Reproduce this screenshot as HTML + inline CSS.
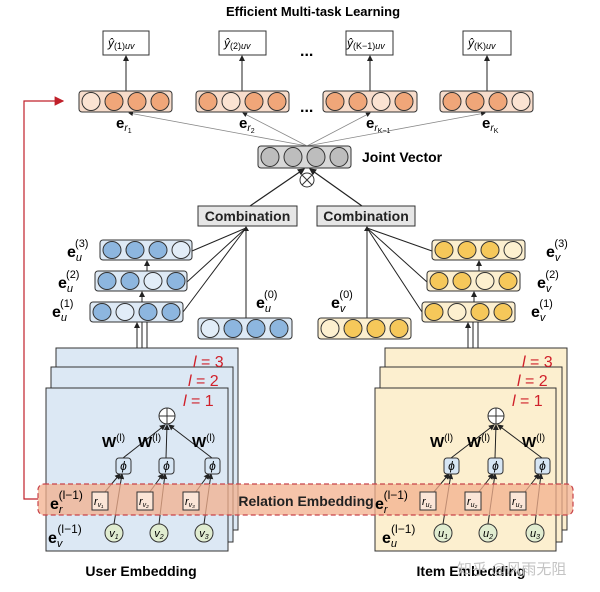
<!DOCTYPE html>
<html><head><meta charset="utf-8"><style>
html,body{margin:0;padding:0;background:#fff}
svg{display:block}
text{font-family:"Liberation Sans",sans-serif}
.m{font-family:"Liberation Serif",serif}
.b{font-weight:bold}
</style></head><body>
<svg width="600" height="592" viewBox="0 0 600 592" xmlns="http://www.w3.org/2000/svg">
<defs>
<marker id="ar" markerWidth="6" markerHeight="6" refX="5" refY="3" orient="auto"><path d="M0,0 L6,3 L0,6z" fill="#222"/></marker>
<marker id="arr" markerWidth="8" markerHeight="8" refX="7" refY="4" orient="auto"><path d="M0,0 L8,4 L0,8z" fill="#c0202a"/></marker>
</defs>
<text x="313" y="16" text-anchor="middle" font-size="13" class="b">Efficient Multi-task Learning</text>

<!-- output boxes -->
<g fill="#fff" stroke="#333" stroke-width="1">
<rect x="103" y="31" width="46" height="24"/><rect x="219" y="31" width="47" height="24"/>
<rect x="346" y="31" width="47" height="24"/><rect x="463" y="31" width="48" height="24"/>
</g>
<g class="m" font-size="12" font-style="italic">
<text x="108" y="47">ŷ<tspan font-size="9" font-style="normal" dy="2">(1)</tspan><tspan font-size="9">uv</tspan></text>
<text x="224" y="47">ŷ<tspan font-size="9" font-style="normal" dy="2">(2)</tspan><tspan font-size="9">uv</tspan></text>
<text x="347" y="47">ŷ<tspan font-size="9" font-style="normal" dy="2">(K−1)</tspan><tspan font-size="9">uv</tspan></text>
<text x="468" y="47">ŷ<tspan font-size="9" font-style="normal" dy="2">(K)</tspan><tspan font-size="9">uv</tspan></text>
</g>
<g stroke="#222" stroke-width="1" marker-end="url(#ar)">
<line x1="126" y1="91" x2="126" y2="56"/><line x1="242" y1="91" x2="242" y2="56"/>
<line x1="370" y1="91" x2="370" y2="56"/><line x1="487" y1="91" x2="487" y2="56"/>
</g>
<text x="300" y="56" font-size="16" class="b">...</text>
<text x="300" y="112" font-size="16" class="b">...</text>

<!-- orange vectors -->
<g stroke="#333" stroke-width="1">
<rect x="79" y="91" width="93" height="21" rx="3" fill="#f7dccb"/>
<rect x="196" y="91" width="93" height="21" rx="3" fill="#f7dccb"/>
<rect x="323" y="91" width="94" height="21" rx="3" fill="#f7dccb"/>
<rect x="440" y="91" width="93" height="21" rx="3" fill="#f7dccb"/>
</g>
<g stroke="#333" stroke-width="1">
<ellipse cx="91" cy="101.5" rx="9" ry="9" fill="#fbe3d2"/><ellipse cx="114" cy="101.5" rx="9" ry="9" fill="#f0a679"/><ellipse cx="137" cy="101.5" rx="9" ry="9" fill="#f0a679"/><ellipse cx="160" cy="101.5" rx="9" ry="9" fill="#f0a679"/>
<ellipse cx="208" cy="101.5" rx="9" ry="9" fill="#f0a679"/><ellipse cx="231" cy="101.5" rx="9" ry="9" fill="#fbe3d2"/><ellipse cx="254" cy="101.5" rx="9" ry="9" fill="#f0a679"/><ellipse cx="277" cy="101.5" rx="9" ry="9" fill="#f0a679"/>
<ellipse cx="335" cy="101.5" rx="9" ry="9" fill="#f0a679"/><ellipse cx="358" cy="101.5" rx="9" ry="9" fill="#f0a679"/><ellipse cx="381" cy="101.5" rx="9" ry="9" fill="#fbe3d2"/><ellipse cx="404" cy="101.5" rx="9" ry="9" fill="#f0a679"/>
<ellipse cx="452" cy="101.5" rx="9" ry="9" fill="#f0a679"/><ellipse cx="475" cy="101.5" rx="9" ry="9" fill="#f0a679"/><ellipse cx="498" cy="101.5" rx="9" ry="9" fill="#f0a679"/><ellipse cx="521" cy="101.5" rx="9" ry="9" fill="#fbe3d2"/>
</g>
<g class="m b" font-size="15">
<text x="116" y="128">e<tspan font-size="10" font-style="italic" font-weight="normal" dy="3">r</tspan><tspan font-size="7" font-weight="normal" dy="2">1</tspan></text>
<text x="239" y="128">e<tspan font-size="10" font-style="italic" font-weight="normal" dy="3">r</tspan><tspan font-size="7" font-weight="normal" dy="2">2</tspan></text>
<text x="366" y="128">e<tspan font-size="10" font-style="italic" font-weight="normal" dy="3">r</tspan><tspan font-size="7" font-weight="normal" dy="2">K−1</tspan></text>
<text x="482" y="128">e<tspan font-size="10" font-style="italic" font-weight="normal" dy="3">r</tspan><tspan font-size="7" font-weight="normal" dy="2">K</tspan></text>
</g>
<g stroke="#888" stroke-width="0.8" marker-end="url(#ar)">
<line x1="307" y1="146" x2="129" y2="113"/><line x1="307" y1="146" x2="243" y2="113"/>
<line x1="307" y1="146" x2="370" y2="113"/><line x1="307" y1="146" x2="485" y2="113"/>
</g>

<!-- joint vector -->
<rect x="258" y="146" width="93" height="22" rx="3" fill="#d8d8d8" stroke="#333"/>
<g stroke="#333" fill="#bdbdbd"><ellipse cx="270" cy="157" rx="9" ry="9.5"/><ellipse cx="293" cy="157" rx="9" ry="9.5"/><ellipse cx="316" cy="157" rx="9" ry="9.5"/><ellipse cx="339" cy="157" rx="9" ry="9.5"/></g>
<text x="362" y="162" font-size="14" class="b">Joint Vector</text>
<circle cx="307" cy="180" r="7" fill="#fff" stroke="#333"/>
<path d="M302,175 L312,185 M312,175 L302,185" stroke="#333"/>
<g stroke="#222" stroke-width="1.2" marker-end="url(#ar)">
<line x1="250" y1="206" x2="304" y2="169"/><line x1="362" y1="206" x2="310" y2="169"/>
</g>

<!-- combination -->
<rect x="198" y="206" width="99" height="20" fill="#e6e6e6" stroke="#333"/>
<rect x="317" y="206" width="98" height="20" fill="#e6e6e6" stroke="#333"/>
<text x="247.5" y="221" text-anchor="middle" font-size="14" class="b" fill="#222">Combination</text>
<text x="366" y="221" text-anchor="middle" font-size="14" class="b" fill="#222">Combination</text>

<!-- lines to combination -->
<g stroke="#222" stroke-width="1">
<line x1="246" y1="228" x2="192" y2="251"/><line x1="246" y1="228" x2="187" y2="282"/><line x1="246" y1="228" x2="183" y2="312"/><line x1="246" y1="228" x2="246" y2="318"/>
<line x1="367" y1="228" x2="432" y2="251"/><line x1="367" y1="228" x2="427" y2="282"/><line x1="367" y1="228" x2="422" y2="312"/><line x1="367" y1="228" x2="367" y2="318"/>
</g>
<path d="M243,231 L246,226 L249,231z M364,231 L367,226 L370,231z" fill="#222"/>

<!-- blue / yellow vectors -->
<g stroke="#333">
<rect x="100" y="240" width="92" height="20" rx="3" fill="#dde9f5"/>
<rect x="95" y="271" width="92" height="20" rx="3" fill="#dde9f5"/>
<rect x="90" y="302" width="93" height="20" rx="3" fill="#dde9f5"/>
<rect x="198" y="318" width="94" height="21" rx="3" fill="#dde9f5"/>
<rect x="432" y="240" width="93" height="20" rx="3" fill="#fcefcf"/>
<rect x="427" y="271" width="93" height="20" rx="3" fill="#fcefcf"/>
<rect x="422" y="302" width="93" height="20" rx="3" fill="#fcefcf"/>
<rect x="318" y="318" width="93" height="21" rx="3" fill="#fcefcf"/>
</g>
<g stroke="#333">
<ellipse cx="112" cy="250" rx="9" ry="8.5" fill="#8db6df"/><ellipse cx="135" cy="250" rx="9" ry="8.5" fill="#8db6df"/><ellipse cx="158" cy="250" rx="9" ry="8.5" fill="#8db6df"/><ellipse cx="181" cy="250" rx="9" ry="8.5" fill="#e2edf8"/>
<ellipse cx="107" cy="281" rx="9" ry="8.5" fill="#8db6df"/><ellipse cx="130" cy="281" rx="9" ry="8.5" fill="#8db6df"/><ellipse cx="153" cy="281" rx="9" ry="8.5" fill="#e2edf8"/><ellipse cx="176" cy="281" rx="9" ry="8.5" fill="#8db6df"/>
<ellipse cx="102" cy="312" rx="9" ry="8.5" fill="#8db6df"/><ellipse cx="125" cy="312" rx="9" ry="8.5" fill="#e2edf8"/><ellipse cx="148" cy="312" rx="9" ry="8.5" fill="#8db6df"/><ellipse cx="171" cy="312" rx="9" ry="8.5" fill="#8db6df"/>
<ellipse cx="210" cy="328.5" rx="9" ry="9" fill="#e2edf8"/><ellipse cx="233" cy="328.5" rx="9" ry="9" fill="#8db6df"/><ellipse cx="256" cy="328.5" rx="9" ry="9" fill="#8db6df"/><ellipse cx="279" cy="328.5" rx="9" ry="9" fill="#8db6df"/>
<ellipse cx="444" cy="250" rx="9" ry="8.5" fill="#f6c85a"/><ellipse cx="467" cy="250" rx="9" ry="8.5" fill="#f6c85a"/><ellipse cx="490" cy="250" rx="9" ry="8.5" fill="#f6c85a"/><ellipse cx="513" cy="250" rx="9" ry="8.5" fill="#fdf0cf"/>
<ellipse cx="439" cy="281" rx="9" ry="8.5" fill="#f6c85a"/><ellipse cx="462" cy="281" rx="9" ry="8.5" fill="#f6c85a"/><ellipse cx="485" cy="281" rx="9" ry="8.5" fill="#fdf0cf"/><ellipse cx="508" cy="281" rx="9" ry="8.5" fill="#f6c85a"/>
<ellipse cx="434" cy="312" rx="9" ry="8.5" fill="#f6c85a"/><ellipse cx="457" cy="312" rx="9" ry="8.5" fill="#fdf0cf"/><ellipse cx="480" cy="312" rx="9" ry="8.5" fill="#f6c85a"/><ellipse cx="503" cy="312" rx="9" ry="8.5" fill="#f6c85a"/>
<ellipse cx="330" cy="328.5" rx="9" ry="9" fill="#fdf0cf"/><ellipse cx="353" cy="328.5" rx="9" ry="9" fill="#f6c85a"/><ellipse cx="376" cy="328.5" rx="9" ry="9" fill="#f6c85a"/><ellipse cx="399" cy="328.5" rx="9" ry="9" fill="#f6c85a"/>
</g>
<g stroke="#222" stroke-width="1" marker-end="url(#ar)">
<line x1="142" y1="302" x2="142" y2="292"/><line x1="147" y1="271" x2="147" y2="261"/>
<line x1="474" y1="302" x2="474" y2="292"/><line x1="479" y1="271" x2="479" y2="261"/>
<line x1="137" y1="388" x2="137" y2="323"/><line x1="468" y1="388" x2="468" y2="323"/>
</g>
<g stroke="#222" stroke-width="1">
<line x1="142" y1="367" x2="142" y2="322"/><line x1="147" y1="348" x2="147" y2="322"/>
<line x1="473" y1="367" x2="473" y2="322"/><line x1="478" y1="348" x2="478" y2="322"/>
</g>
<g class="m b" font-size="16">
<text x="67" y="257">e<tspan font-size="11" font-style="italic" font-weight="normal" dy="4">u</tspan><tspan font-size="11" font-weight="normal" dx="-7" dy="-14">(3)</tspan></text>
<text x="58" y="288">e<tspan font-size="11" font-style="italic" font-weight="normal" dy="4">u</tspan><tspan font-size="11" font-weight="normal" dx="-7" dy="-14">(2)</tspan></text>
<text x="52" y="317">e<tspan font-size="11" font-style="italic" font-weight="normal" dy="4">u</tspan><tspan font-size="11" font-weight="normal" dx="-7" dy="-14">(1)</tspan></text>
<text x="256" y="308">e<tspan font-size="11" font-style="italic" font-weight="normal" dy="4">u</tspan><tspan font-size="11" font-weight="normal" dx="-7" dy="-14">(0)</tspan></text>
<text x="331" y="308">e<tspan font-size="11" font-style="italic" font-weight="normal" dy="4">v</tspan><tspan font-size="11" font-weight="normal" dx="-6" dy="-14">(0)</tspan></text>
<text x="546" y="257">e<tspan font-size="11" font-style="italic" font-weight="normal" dy="4">v</tspan><tspan font-size="11" font-weight="normal" dx="-6" dy="-14">(3)</tspan></text>
<text x="537" y="288">e<tspan font-size="11" font-style="italic" font-weight="normal" dy="4">v</tspan><tspan font-size="11" font-weight="normal" dx="-6" dy="-14">(2)</tspan></text>
<text x="531" y="317">e<tspan font-size="11" font-style="italic" font-weight="normal" dy="4">v</tspan><tspan font-size="11" font-weight="normal" dx="-6" dy="-14">(1)</tspan></text>
</g>

<!-- sheets -->
<g stroke="#333" stroke-width="1">
<rect x="56" y="348" width="182" height="182" fill="#dce8f4"/>
<rect x="51" y="367" width="182" height="175" fill="#dce8f4"/>
<rect x="46" y="388" width="182" height="163" fill="#dce8f4"/>
<rect x="385" y="348" width="182" height="182" fill="#fcefcf"/>
<rect x="380" y="367" width="182" height="175" fill="#fcefcf"/>
<rect x="375" y="388" width="181" height="163" fill="#fcefcf"/>
</g>
<g fill="#d0202a" font-size="16" class="m" font-style="italic">
<text x="193" y="367">l <tspan font-style="normal">= 3</tspan></text>
<text x="188" y="386">l <tspan font-style="normal">= 2</tspan></text>
<text x="183" y="406">l <tspan font-style="normal">= 1</tspan></text>
<text x="522" y="367">l <tspan font-style="normal">= 3</tspan></text>
<text x="517" y="386">l <tspan font-style="normal">= 2</tspan></text>
<text x="512" y="406">l <tspan font-style="normal">= 1</tspan></text>
</g>

<!-- inner structures -->
<g>
<circle cx="167" cy="416" r="8" fill="#fff" stroke="#333"/>
<path d="M159,416 H175 M167,408 V424" stroke="#333"/>
<g stroke="#222" stroke-width="1" marker-end="url(#ar)">
<line x1="123" y1="458" x2="165" y2="425"/><line x1="166" y1="458" x2="167" y2="425"/><line x1="212" y1="458" x2="169" y2="425"/>
<line x1="114" y1="524" x2="122" y2="474"/><line x1="159" y1="524" x2="165" y2="474"/><line x1="204" y1="524" x2="211" y2="474"/>
<line x1="104" y1="493" x2="120" y2="474"/><line x1="149" y1="493" x2="163" y2="474"/><line x1="195" y1="493" x2="209" y2="474"/>
</g>
<g fill="#d7e6f4" stroke="#333"><rect x="116" y="458" width="15" height="16" rx="3"/><rect x="159" y="458" width="15" height="16" rx="3"/><rect x="205" y="458" width="15" height="16" rx="3"/></g>
<g class="m" font-size="12" font-style="italic" text-anchor="middle"><text x="123.5" y="470">ϕ</text><text x="166.5" y="470">ϕ</text><text x="212.5" y="470">ϕ</text></g>
<g class="m b" font-size="15"><text x="102" y="447">W<tspan font-size="10" font-weight="normal" dy="-6">(l)</tspan></text><text x="138" y="447">W<tspan font-size="10" font-weight="normal" dy="-6">(l)</tspan></text><text x="192" y="447">W<tspan font-size="10" font-weight="normal" dy="-6">(l)</tspan></text></g>
</g>
<g transform="translate(329,0)">
<circle cx="167" cy="416" r="8" fill="#fff" stroke="#333"/>
<path d="M159,416 H175 M167,408 V424" stroke="#333"/>
<g stroke="#222" stroke-width="1" marker-end="url(#ar)">
<line x1="122" y1="458" x2="165" y2="425"/><line x1="166" y1="458" x2="167" y2="425"/><line x1="213" y1="458" x2="169" y2="425"/>
<line x1="114" y1="524" x2="122" y2="474"/><line x1="159" y1="524" x2="166" y2="474"/><line x1="206" y1="524" x2="212" y2="474"/>
<line x1="104" y1="493" x2="120" y2="474"/><line x1="149" y1="493" x2="164" y2="474"/><line x1="195" y1="493" x2="210" y2="474"/>
</g>
<g fill="#d7e6f4" stroke="#333"><rect x="115" y="458" width="15" height="16" rx="3"/><rect x="159" y="458" width="15" height="16" rx="3"/><rect x="206" y="458" width="15" height="16" rx="3"/></g>
<g class="m" font-size="12" font-style="italic" text-anchor="middle"><text x="122.5" y="470">ϕ</text><text x="166.5" y="470">ϕ</text><text x="213.5" y="470">ϕ</text></g>
<g class="m b" font-size="15"><text x="101" y="447">W<tspan font-size="10" font-weight="normal" dy="-6">(l)</tspan></text><text x="138" y="447">W<tspan font-size="10" font-weight="normal" dy="-6">(l)</tspan></text><text x="193" y="447">W<tspan font-size="10" font-weight="normal" dy="-6">(l)</tspan></text></g>
</g>

<!-- relation band -->
<rect x="38" y="484" width="535" height="31" rx="6" fill="#f3b08e" fill-opacity="0.75" stroke="#c8434a" stroke-dasharray="5,3" stroke-width="1.2"/>
<polyline points="38,499 24,499 24,101 63,101" fill="none" stroke="#c0202a" stroke-width="1.2" marker-end="url(#arr)"/>
<text x="306" y="506" text-anchor="middle" font-size="14" class="b" fill="#222">Relation Embedding</text>
<g fill="#fbe6d8" stroke="#333">
<rect x="92" y="492" width="16" height="18"/><rect x="137" y="492" width="16" height="18"/><rect x="183" y="492" width="16" height="18"/>
<rect x="420" y="492" width="16" height="18"/><rect x="465" y="492" width="16" height="18"/><rect x="510" y="492" width="16" height="18"/>
</g>
<g class="m" font-size="11" font-style="italic">
<text x="94" y="505">r<tspan font-size="7" dy="2">v₁</tspan></text><text x="139" y="505">r<tspan font-size="7" dy="2">v₂</tspan></text><text x="185" y="505">r<tspan font-size="7" dy="2">v₃</tspan></text>
<text x="422" y="505">r<tspan font-size="7" dy="2">u₁</tspan></text><text x="467" y="505">r<tspan font-size="7" dy="2">u₂</tspan></text><text x="512" y="505">r<tspan font-size="7" dy="2">u₃</tspan></text>
</g>
<g class="m b" font-size="16">
<text x="50" y="509">e<tspan font-size="11" font-style="italic" font-weight="normal" dy="4">r</tspan><tspan font-size="12" font-weight="normal" dx="-4" dy="-14">(l−1)</tspan></text>
<text x="48" y="543">e<tspan font-size="11" font-style="italic" font-weight="normal" dy="4">v</tspan><tspan font-size="12" font-weight="normal" dx="-5" dy="-14">(l−1)</tspan></text>
<text x="375" y="509">e<tspan font-size="11" font-style="italic" font-weight="normal" dy="4">r</tspan><tspan font-size="12" font-weight="normal" dx="-4" dy="-14">(l−1)</tspan></text>
<text x="382" y="543">e<tspan font-size="11" font-style="italic" font-weight="normal" dy="4">u</tspan><tspan font-size="12" font-weight="normal" dx="-6" dy="-14">(l−1)</tspan></text>
</g>
<g fill="#e0ecd0" stroke="#333">
<circle cx="114" cy="533" r="9"/><circle cx="159" cy="533" r="9"/><circle cx="204" cy="533" r="9"/>
<circle cx="443" cy="533" r="9"/><circle cx="488" cy="533" r="9"/><circle cx="535" cy="533" r="9"/>
</g>
<g class="m" font-size="11" font-style="italic" text-anchor="middle">
<text x="114" y="537">v<tspan font-size="7" dy="2">1</tspan></text><text x="159" y="537">v<tspan font-size="7" dy="2">2</tspan></text><text x="204" y="537">v<tspan font-size="7" dy="2">3</tspan></text>
<text x="443" y="537">u<tspan font-size="7" dy="2">1</tspan></text><text x="488" y="537">u<tspan font-size="7" dy="2">2</tspan></text><text x="535" y="537">u<tspan font-size="7" dy="2">3</tspan></text>
</g>

<text x="141" y="576" text-anchor="middle" font-size="14" class="b">User Embedding</text>
<text x="471" y="576" text-anchor="middle" font-size="14" class="b">Item Embedding</text>
<text x="457" y="574" font-size="15" fill="#c4c4c4" style="font-family:'Liberation Sans','Noto Sans CJK SC',sans-serif">知乎 @风雨无阻</text>
</svg>
</body></html>
